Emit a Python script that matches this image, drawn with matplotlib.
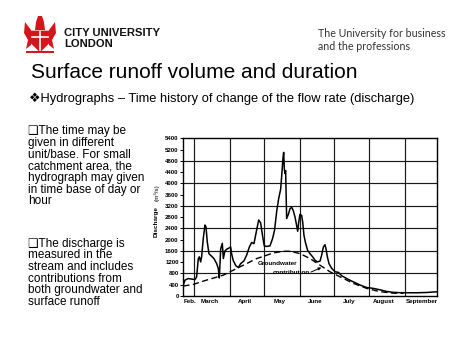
import matplotlib
matplotlib.use('Agg')
import matplotlib.pyplot as plt
from matplotlib.patches import Polygon, Rectangle

# ---------------- data ----------------
flow_days = [-9.3, -7.8, -4.9, -2.0, 0.9, 2.3, 3.8, 4.7, 5.8, 6.7, 8.1, 9.6, 10.5, 11.6,
             13.1, 15.4, 17.4, 19.8, 21.2, 22.1, 23.3, 24.7, 25.6, 27.0, 28.5, 30.8,
             32.0, 32.8, 34.3, 36.6, 38.7, 40.7, 43.6, 45.9, 48.3, 50.3, 52.3, 54.1,
             56.4, 58.1, 59.9, 61.3, 63.4, 66.3, 68.6, 70.3, 72.1, 73.8, 75.6, 76.7,
             77.6, 78.2, 78.8, 79.4, 79.9, 80.8, 82.3, 83.7, 85.2, 86.6, 88.1, 89.5,
             90.4, 91.3, 92.4, 93.9, 94.8, 95.9, 97.4, 99.1, 101.2, 103.5, 105.5,
             107.6, 109.9, 111.3, 112.8, 114.2, 115.1, 116.3, 117.7, 120.1, 123.0,
             125.9, 128.8, 133.1, 139.0, 144.8, 150.6, 156.4, 162.2, 168.0, 173.8,
             179.7, 185.5, 194.2, 202.9, 211.6]
flow_values = [390, 565, 620, 600, 585, 680, 1330, 1390, 1210, 1400, 2040, 2520, 2450, 1920,
               1500, 1410, 1330, 1150, 980, 640, 1680, 1870, 1330, 1600, 1660, 1710,
               1740, 1500, 1250, 1070, 1010, 1150, 1250, 1450, 1740, 1900, 1860, 2230,
               2700, 2600, 2110, 1780, 1760, 1780, 2050, 2350, 3000, 3450, 3800, 4390,
               4900, 5100, 4500, 4350, 4450, 2750, 2900, 3100, 3150, 3030, 2800, 2500,
               2300, 2620, 2900, 2860, 2620, 2150, 1860, 1620, 1500, 1390, 1270,
               1210, 1240, 1450, 1740, 1820, 1680, 1390, 1150, 980, 860,
               840, 720, 620, 500, 390, 300, 270, 220, 160, 130,
               118, 115, 115, 125, 150]

gw_days = [-9.3, -0.6, 11.0, 25.6, 40.1, 54.7, 69.2, 77.9, 83.7, 92.4, 101.2, 109.9,
           118.6, 127.3, 139.0, 150.6, 162.2, 173.8, 182.6]
gw_values = [353, 412, 565, 741, 1035, 1329, 1529, 1588, 1588, 1506, 1329, 1094,
             859, 682, 447, 270, 153, 100, 95]

month_starts = [0, 31, 61, 92, 122, 153, 184]
month_label_pos = [-3.5, 14, 44, 74.5, 106, 135.5, 165, 198.5]
month_labels = ['Feb.', 'March', 'April', 'May', 'June', 'July', 'August', 'September']

ytick_values = [0, 400, 800, 1200, 1600, 2000, 2400, 2800, 3200, 3600, 4000, 4400, 4800, 5200, 5600]
ytick_labels = ['0', '400', '800', '1200', '1600', '2000', '2400', '2800', '3200', '3600',
                '4000', '4400', '4800', '5200', '5400']
ygrid_values = [800, 1600, 2400, 3200, 4000, 4800]

title = 'Surface runoff volume and duration'
subtitle = '\u2756Hydrographs \u2013 Time history of change of the flow rate (discharge)'
para1 = ['\u2751The time may be', 'given in different', 'unit/base. For small',
         'catchment area, the', 'hydrograph may given', 'in time base of day or', 'hour']
para2 = ['\u2751The discharge is', 'measured in the', 'stream and includes',
         'contributions from', 'both groundwater and', 'surface runoff']

# ---------------- figure ----------------
W, H = 474, 355
fig = plt.figure(figsize=(W / 100, H / 100), dpi=100)
fig.patch.set_facecolor('white')

# slide overlay in pixel coordinates
sl = fig.add_axes([0, 0, 1, 1], zorder=0)
sl.set_xlim(0, W)
sl.set_ylim(H, 0)
sl.axis('off')

fam = ['Liberation Sans', 'DejaVu Sans']
red = '#d4161c'

# logo crest (approximate)
shield = Polygon([(31, 31), (49, 31), (49, 43), (40, 52), (31, 43)], closed=True,
                 facecolor=red, edgecolor=red, lw=0.5)
sl.add_patch(shield)
sl.plot([40, 40], [32, 50], color='white', lw=1.2)
sl.plot([32, 48], [37, 37], color='white', lw=1.2)
sl.add_patch(Polygon([(25, 22), (31, 30), (31, 45), (26, 49), (28, 40), (24, 33)],
                     closed=True, facecolor=red, edgecolor='none'))
sl.add_patch(Polygon([(55, 22), (49, 30), (49, 45), (54, 49), (52, 40), (56, 33)],
                     closed=True, facecolor=red, edgecolor='none'))
sl.add_patch(Polygon([(35, 30), (36, 22), (38, 16), (42, 16), (44, 22), (45, 30)],
                     closed=True, facecolor=red, edgecolor='none'))
sl.add_patch(Rectangle((26, 51), 28, 2, facecolor=red, edgecolor='none'))

sl.text(64, 36.2, 'CITY UNIVERSITY', fontsize=8.1, fontweight='bold', family=fam,
        color='#111111', va='baseline', ha='left')
sl.text(64, 47.0, 'LONDON', fontsize=8.1, fontweight='bold', family=fam,
        color='#111111', va='baseline', ha='left')
sl.text(318, 37, 'The University for business', fontsize=7.7, family=['Lato', 'DejaVu Sans'],
        color='#333333', va='baseline', ha='left')
sl.text(318, 49.5, 'and the professions', fontsize=7.7, family=['Lato', 'DejaVu Sans'],
        color='#333333', va='baseline', ha='left')

sl.text(31, 78.5, title, fontsize=15, family=fam, color='black', va='baseline', ha='left')
sl.text(29, 101.7, subtitle, fontsize=9.3, family=fam, color='black', va='baseline', ha='left')

step = 11.75
for i, line in enumerate(para1):
    sl.text(28, 134 + i * step, line, fontsize=8.5, family=fam, color='black',
            va='baseline', ha='left')
for i, line in enumerate(para2):
    sl.text(28, 246.5 + i * step, line, fontsize=8.5, family=fam, color='black',
            va='baseline', ha='left')

# ---------------- chart ----------------
x0, x1, ytop, ybot = 183.3, 436.7, 138.3, 296.0
ax = fig.add_axes([x0 / W, 1 - ybot / H, (x1 - x0) / W, (ybot - ytop) / H], zorder=2)
ax.set_facecolor('none')
ax.set_xlim(-9.3, 211.6)
ax.set_ylim(0, 5600)

for m in month_starts:
    ax.axvline(m, color='#1a1a1a', lw=0.85, zorder=1)
for g in ygrid_values:
    ax.axhline(g, color='#1a1a1a', lw=0.85, zorder=1)

ax.plot(flow_days, flow_values, color='black', lw=1.1, zorder=3, solid_joinstyle='round')
ax.plot(gw_days, gw_values, color='black', lw=1.0, ls=(0, (4.5, 2.5)), zorder=3)

for s in ax.spines.values():
    s.set_color('black')
    s.set_linewidth(1.0)

ax.set_yticks(ytick_values)
ax.set_yticklabels(ytick_labels)
ax.tick_params(axis='y', length=2.5, width=0.7, pad=0.8, labelsize=4.4, colors='black')
for t in ax.get_yticklabels():
    t.set_fontweight('bold')
    t.set_family(fam)

ax.set_xticks(month_starts)
ax.set_xticklabels([])
ax.tick_params(axis='x', which='major', length=0)
ax.set_xticks(month_label_pos, minor=True)
ax.set_xticklabels(month_labels, minor=True)
ax.tick_params(axis='x', which='minor', length=0, pad=2.5, labelsize=4.5)
for t in ax.get_xticklabels(minor=True):
    t.set_fontweight('bold')
    t.set_family(fam)

# annotation
ax.text(73, 1150, 'Groundwater', fontsize=4.6, fontweight='bold', family=fam,
        ha='center', va='center')
ax.text(85, 830, 'contribution', fontsize=4.6, fontweight='bold', family=fam,
        ha='center', va='center')
ax.annotate('', xy=(111, 1010), xytext=(102, 850),
            arrowprops=dict(arrowstyle='-|>', color='black', lw=0.7,
                            mutation_scale=4, shrinkA=0, shrinkB=0))

# y label
sl.text(156.5, 222, 'Discharge', rotation=90, fontsize=4.6, fontweight='bold', family=fam,
        ha='center', va='center')
sl.text(156.5, 193, '(m\u00b3/s)', rotation=90, fontsize=4.6, family=fam,
        ha='center', va='center')

fig.savefig('out.png', dpi=100, facecolor='white')
